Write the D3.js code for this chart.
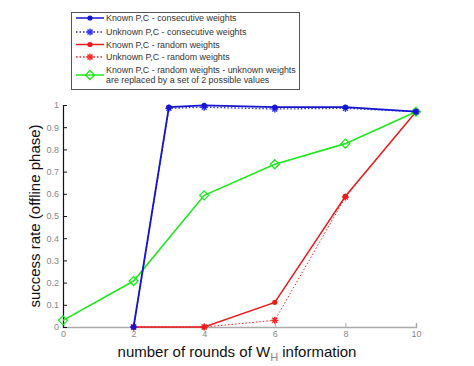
<!DOCTYPE html>
<html>
<head>
<meta charset="utf-8">
<script src="https://cdn.jsdelivr.net/npm/d3@7"></script>
<style>
body { margin: 0; background: #fff; }
svg { display: block; font-family: "Liberation Sans", Arial, sans-serif; }
</style>
</head>
<body>
<svg id="chart" width="474" height="366"></svg>
<script>
// data
var xTicks = [0, 2, 4, 6, 8, 10];
var yTicks = [0, 0.1, 0.2, 0.3, 0.4, 0.5, 0.6, 0.7, 0.8, 0.9, 1];

var knownConsX = [2, 3, 4, 6, 8, 10];
var knownConsY = [0, 0.99, 0.998, 0.99, 0.99, 0.97];
var unknownConsX = [2, 3, 4, 6, 8, 10];
var unknownConsY = [0, 0.985, 0.99, 0.982, 0.985, 0.97];
var knownRandX = [2, 4, 6, 8, 10];
var knownRandY = [0, 0, 0.111, 0.589, 0.97];
var unknownRandX = [2, 4, 6, 8, 10];
var unknownRandY = [0, 0, 0.03, 0.585, 0.97];
var greenX = [0, 2, 4, 6, 8, 10];
var greenY = [0.03, 0.207, 0.593, 0.733, 0.826, 0.97];

var seriesNames = [
  ["Known P,C - consecutive weights"],
  ["Unknown P,C - consecutive weights"],
  ["Known P,C - random weights"],
  ["Unknown P,C - random weights"],
  ["Known P,C - random weights - unknown weights", "are replaced  by a set of 2 possible values"]
];

var margin = { top: 105, right: 58, bottom: 39, left: 63 };
var svg = d3.select('#chart');
var W = 474, H = 366;
var innerW = W - margin.left - margin.right;
var innerH = H - margin.top - margin.bottom;

var x = d3.scaleLinear().domain([0, 10]).range([margin.left, margin.left + innerW]);
var y = d3.scaleLinear().domain([0, 1]).range([margin.top + innerH, margin.top]);

// axes
var xAxis = d3.axisBottom(x).tickValues(xTicks).tickSize(-4).tickPadding(4);
var xg = svg.append('g').attr('transform', 'translate(0,' + y(0) + ')').call(xAxis);
xg.select('.domain').attr('stroke', '#aaa').attr('stroke-width', 1.5);
xg.selectAll('.tick line').attr('stroke', '#aaa');
xg.selectAll('.tick text').attr('fill', '#888').attr('font-size', 9);

var yAxis = d3.axisLeft(y).tickValues(yTicks).tickSize(-4).tickPadding(4)
  .tickFormat(function(d){ return d === 0 ? '0' : d === 1 ? '1' : d3.format('.1f')(d); });
var yg = svg.append('g').attr('transform', 'translate(' + x(0) + ',0)').call(yAxis);
yg.select('.domain').attr('stroke', '#111').attr('stroke-width', 1.2);
yg.selectAll('.tick line').attr('stroke', '#111');
yg.selectAll('.tick text').attr('fill', '#888').attr('font-size', 9);

// labels
svg.append('text')
  .attr('transform', 'translate(40,' + (margin.top + innerH / 2) + ') rotate(-90)')
  .attr('text-anchor', 'middle')
  .attr('font-size', 15)
  .attr('fill', '#111')
  .text('success rate (offline phase)');

var xl = svg.append('text')
  .attr('x', 237).attr('y', 357)
  .attr('text-anchor', 'middle')
  .attr('font-size', 15)
  .attr('fill', '#111');
xl.append('tspan').text('number of rounds of W');
xl.append('tspan').attr('dy', 4).attr('font-size', 11).attr('fill', '#888').text('H');
xl.append('tspan').attr('dy', -4).text(' information');

function zip(xs, ys) { return xs.map(function(v, i){ return [v, ys[i]]; }); }
var line = d3.line().x(function(d){ return x(d[0]); }).y(function(d){ return y(d[1]); });

function star(g, cx, cy, col, r) {
  var s = g.append('g').attr('stroke', col).attr('stroke-width', 1.4);
  [0, 45, 90, 135].forEach(function(a){
    var rad = a * Math.PI / 180;
    s.append('line')
      .attr('x1', cx - r * Math.cos(rad)).attr('y1', cy - r * Math.sin(rad))
      .attr('x2', cx + r * Math.cos(rad)).attr('y2', cy + r * Math.sin(rad));
  });
}
function dot(g, cx, cy, col, r) {
  g.append('circle').attr('cx', cx).attr('cy', cy).attr('r', r).attr('fill', col);
}
function diamond(g, cx, cy, col, r) {
  g.append('path')
    .attr('d', 'M' + cx + ',' + (cy - r) + 'L' + (cx + r) + ',' + cy + 'L' + cx + ',' + (cy + r) + 'L' + (cx - r) + ',' + cy + 'Z')
    .attr('fill', 'none').attr('stroke', col).attr('stroke-width', 1.3);
}

var series = [
  { pts: zip(unknownRandX, unknownRandY), col: '#ff2020', dash: '1.5,2', w: 1, mk: 'star' },
  { pts: zip(knownRandX, knownRandY), col: '#e81c1c', dash: null, w: 1.5, mk: 'dot' },
  { pts: zip(greenX, greenY), col: '#1ee81e', dash: null, w: 1.6, mk: 'diamond' },
  { pts: zip(unknownConsX, unknownConsY), col: '#2a2aff', dash: '1.5,2', w: 1.3, mk: 'star' },
  { pts: zip(knownConsX, knownConsY), col: '#1515d0', dash: null, w: 1.8, mk: 'dot' }
];

var plot = svg.append('g');
series.forEach(function(s){
  plot.append('path').datum(s.pts)
    .attr('d', line)
    .attr('fill', 'none')
    .attr('stroke', s.col)
    .attr('stroke-width', s.w)
    .attr('stroke-dasharray', s.dash);
  s.pts.forEach(function(p){
    var cx = x(p[0]), cy = y(p[1]);
    if (s.mk === 'star') star(plot, cx, cy, s.col, 3.5);
    else if (s.mk === 'dot') dot(plot, cx, cy, s.col, 2.6);
    else diamond(plot, cx, cy, s.col, 4.5);
  });
});

// legend
var lg = svg.append('g');
lg.append('rect').attr('x', 71.5).attr('y', 12.5).attr('width', 228).attr('height', 77)
  .attr('fill', '#fff').attr('stroke', '#555').attr('stroke-width', 1);
var legendSpec = [
  { col: '#1515d0', dash: null, mk: 'dot', y: 18 },
  { col: '#2a2aff', dash: '1.5,2', mk: 'star', y: 32 },
  { col: '#e81c1c', dash: null, mk: 'dot', y: 44.5 },
  { col: '#ff2020', dash: '1.5,2', mk: 'star', y: 57 },
  { col: '#1ee81e', dash: null, mk: 'diamond', y: 75 }
];
legendSpec.forEach(function(l, i){
  lg.append('line').attr('x1', 76).attr('x2', 104).attr('y1', l.y).attr('y2', l.y)
    .attr('stroke', l.col).attr('stroke-width', 1.5).attr('stroke-dasharray', l.dash);
  if (l.mk === 'star') star(lg, 90, l.y, l.col, 3.5);
  else if (l.mk === 'dot') dot(lg, 90, l.y, l.col, 2.6);
  else diamond(lg, 90, l.y, l.col, 4.5);
  var lines = seriesNames[i];
  lines.forEach(function(t, j){
    lg.append('text')
      .attr('x', 106)
      .attr('y', (lines.length === 1 ? l.y : l.y - 5 + j * 10) + 3)
      .attr('font-size', 8.9)
      .attr('fill', '#333')
      .text(t);
  });
});
</script>
</body>
</html>
